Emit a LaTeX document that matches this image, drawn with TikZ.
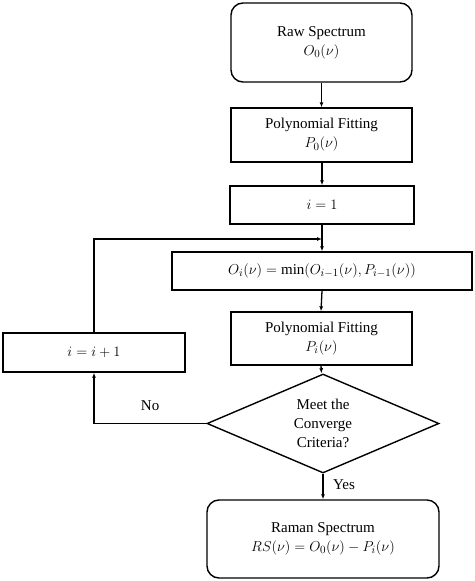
\documentclass[tikz,border=0pt]{standalone}
\usepackage{fontspec}
\setmainfont{Liberation Serif}
\usetikzlibrary{shapes.geometric,arrows.meta}
\begin{document}
\begin{tikzpicture}[x=1pt,y=-1pt,
  every node/.style={font=\fontsize{15}{19}\selectfont, align=center, inner sep=0pt},
  box/.style={draw, line width=1.4pt, rectangle},
  rbox/.style={box, rounded corners=12pt},
  dbox/.style={draw, line width=1.4pt, diamond, aspect=2.34},
  conn/.style={line width=1.3pt, -{Latex[length=5pt,width=4pt]}},
  plain/.style={line width=1.3pt},
  lbl/.style={font=\fontsize{15}{18}\selectfont}]
\useasboundingbox (0,0) rectangle (474,581);
\node[rbox, minimum width=181pt, minimum height=79pt] (raw) at (321.5,42.5) {Raw Spectrum\\$O_0(\nu)$};
\node[box, minimum width=181pt, minimum height=54pt] (pf0) at (321.5,135) {Polynomial Fitting\\$P_0(\nu)$};
\node[box, minimum width=184pt, minimum height=38pt] (i1) at (322,205) {$i = 1$};
\node[box, minimum width=300pt, minimum height=38pt] (oi) at (322,271) {$O_i(\nu) = \min(O_{i-1}(\nu), P_{i-1}(\nu))$};
\node[box, minimum width=181pt, minimum height=53pt] (pfi) at (321.5,338.5) {Polynomial Fitting\\$P_i(\nu)$};
\node[box, minimum width=182pt, minimum height=39pt] (inc) at (94,352.5) {$i = i + 1$};
\node[dbox, minimum width=232pt, minimum height=99pt] (dia) at (323,423.5) {Meet the\\Converge\\Criteria?};
\node[rbox, minimum width=232pt, minimum height=78pt] (raman) at (323,539) {Raman Spectrum\\$RS(\nu) = O_0(\nu) - P_i(\nu)$};
\coordinate (merge) at (322,239);
\draw[conn] (raw.south) -- (pf0.north);
\draw[conn] ([xshift=0.5pt]pf0.south) -- (i1.north);
\draw[conn] (i1.south) -- (oi.north);
\draw[conn] (oi.south) -- ([xshift=-0.5pt]pfi.north);
\draw[conn] ([xshift=-0.5pt]pfi.south) -- ([xshift=-1.5pt]dia.north);
\draw[conn] (dia.south) -- (raman.north);
\draw[conn] (dia.west) -| node[lbl, pos=0.25, above=12pt] {No} (inc.south);
\draw[conn] (inc.north) |- (merge);
\node[lbl] (yes) at (344,485) {Yes};
\end{tikzpicture}
\end{document}
